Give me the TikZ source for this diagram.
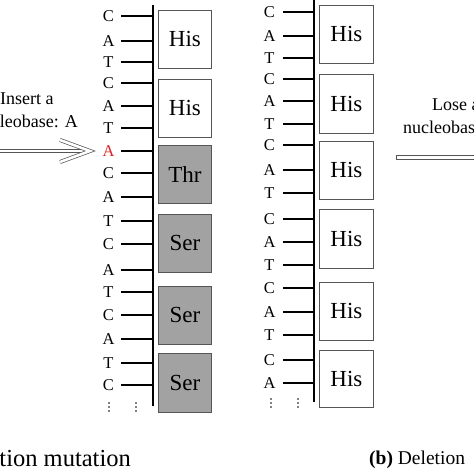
\documentclass[tikz,border=0pt]{standalone}
\usepackage{fontspec}
\setmainfont{Liberation Serif}
\definecolor{boxgray}{HTML}{A2A2A2}
\definecolor{edgegray}{HTML}{555555}
\definecolor{basered}{HTML}{E02424}
\begin{document}
\begin{tikzpicture}[x=1pt,y=-1pt,
  base/.style={font=\fontsize{16.5}{17}\selectfont, inner sep=0pt, anchor=center},
  tickline/.style={line width=2.6pt},
  spine/.style={line width=2.4pt},
  aabox/.style={draw=edgegray, line width=0.9pt, inner sep=0pt, anchor=north west,
    font=\fontsize{23}{24}\selectfont},
  side/.style={font=\fontsize{18}{20}\selectfont, inner sep=0pt},
  capt/.style={inner sep=0pt, anchor=base},
  dbl/.style={draw=edgegray, line width=0.7pt, double=white, double distance=2.6pt},
  dotmark/.style={fill=black, draw=none}]
\path[use as bounding box] (0,0) rectangle (474,474);
\clip (0,0) rectangle (474,474);

% ---------- left strand (insertion) ----------
\draw[spine] (153,5) coordinate (ls-top) -- (153,406) coordinate (ls-bot);
\foreach \b/\y [count=\i] in {C/16,A/41,T/62,C/83,A/106,T/128,A/151,C/173,A/197,T/221,C/244,A/270,T/292,C/315,A/339,T/363,C/385}{
  \ifnum\i=7
    \node[base, text=basered] (l\i) at (108.5,\y) {\b};
  \else
    \node[base] (l\i) at (108.5,\y) {\b};
  \fi
  \coordinate (lt\i) at (121,\y);
  \coordinate (lsp\i) at (153,\y);
  \draw[tickline] (lt\i) -- (lsp\i);
}
\foreach \x in {109,136}{
  \foreach \y in {403,407,411} \fill[dotmark] (\x,\y) circle (0.9pt);
}
\foreach \lab/\t/\h/\f [count=\i] in {His/10/58/white,His/79/58/white,Thr/145/58/boxgray,Ser/214/58/boxgray,Ser/286/58/boxgray,Ser/353/59/boxgray}{
  \node[aabox, fill=\f, minimum width=53pt, minimum height=\h pt] (lb\i) at (158,\t) {\lab};
}

% ---------- right strand (deletion) ----------
\draw[spine] (314,0) coordinate (rs-top) -- (314,402) coordinate (rs-bot);
\foreach \b/\y [count=\i] in {C/12,A/36,T/58,C/79,A/101,T/124,C/145,A/170,T/193,C/219,A/242,T/265,C/288,A/312,T/335,C/360,A/383}{
  \node[base] (r\i) at (269.5,\y) {\b};
  \coordinate (rt\i) at (283,\y);
  \coordinate (rsp\i) at (314,\y);
  \draw[tickline] (rt\i) -- (rsp\i);
}
\foreach \x in {271,298}{
  \foreach \y in {399,403,407} \fill[dotmark] (\x,\y) circle (0.9pt);
}
\foreach \t/\h [count=\i] in {5/58,74/59,141/58,209/59,282/58,350/57}{
  \node[aabox, fill=white, minimum width=54pt, minimum height=\h pt] (rb\i) at (319,\t) {His};
}

% ---------- insertion arrow ----------
\node[side, anchor=west] (ins1) at (0,99) {Insert a};
\node[side, anchor=east] (ins2) at (78,121) {nucleobase: A};
\coordinate (arrL) at (-5,151);
\coordinate (arrM) at (86,151);
\coordinate (arrR) at (90,151);
\draw[dbl] (arrL) -- (arrM);
\draw[dbl, line join=miter] (60,140) -- (arrR) -- (60,162);

% ---------- deletion arrow ----------
\node[side, anchor=west] (los1) at (432,105) {Lose a};
\node[side, anchor=west] (los2) at (403,127) {nucleobase};
\coordinate (delL) at (396,155);
\coordinate (delR) at (480,159);
\draw[draw=edgegray, line width=0.8pt, fill=white] (delL) rectangle (delR);

% ---------- captions ----------
\node[capt, anchor=base east, font=\fontsize{24.5}{27}\selectfont] (capa) at (131,466.5) {(a) Insertion mutation};
\node[capt, anchor=base west, font=\fontsize{19.5}{23}\selectfont] (capb) at (369,464.5) {\textbf{(b)} Deletion};
\end{tikzpicture}
\end{document}
